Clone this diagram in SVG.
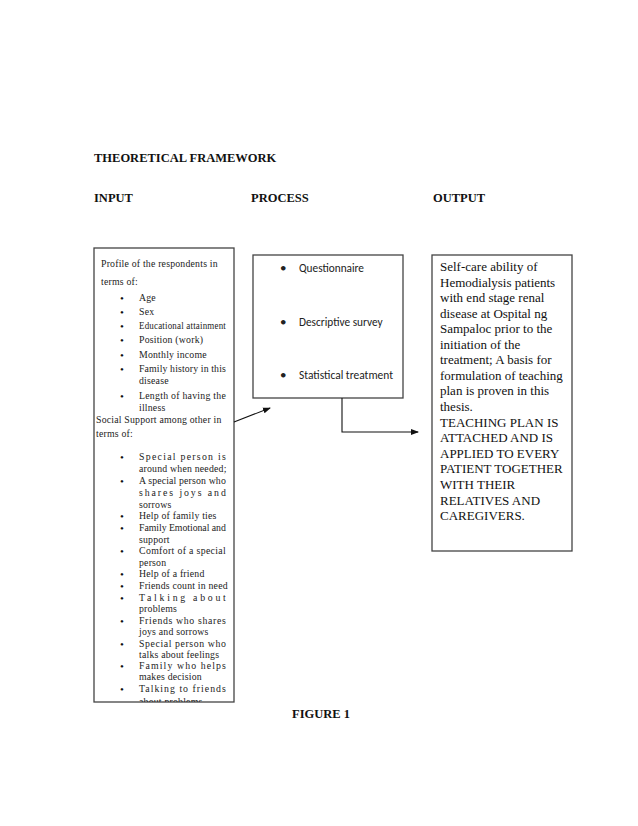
<svg xmlns="http://www.w3.org/2000/svg" width="638" height="826" viewBox="0 0 638 826">
<style>
.h{font-family:"Liberation Serif","Times New Roman",serif;font-weight:bold;font-size:12.5px;fill:#111}
.s{font-family:"Liberation Serif","Times New Roman",serif;font-size:9.8px;letter-spacing:0.2px;fill:#222}
.b{font-family:"Liberation Serif","Times New Roman",serif;font-size:11px;fill:#111}
.p{font-family:"Carlito","Liberation Sans",Arial,sans-serif;font-size:11.3px;fill:#222}
.o{font-family:"Liberation Serif","Times New Roman",serif;font-size:13px;fill:#111}
.box{fill:#fff;stroke:#444;stroke-width:1.3}
.ln{fill:none;stroke:#111;stroke-width:1.1}
</style>
<defs>
<marker id="ah" markerWidth="8" markerHeight="8" refX="7" refY="4" orient="auto" markerUnits="userSpaceOnUse">
<path d="M0,1 L8,4 L0,7 Z" fill="#111"/>
</marker>
<clipPath id="ic"><rect x="94" y="248" width="140" height="454"/></clipPath>
</defs>
<rect width="638" height="826" fill="#fff"/>
<text class="h" x="94" y="162">THEORETICAL FRAMEWORK</text>
<text class="h" x="94" y="202">INPUT</text>
<text class="h" x="251" y="202">PROCESS</text>
<text class="h" x="433" y="202">OUTPUT</text>
<g id="input">
<rect class="box" x="94" y="248" width="140" height="454"/>
<g clip-path="url(#ic)">
<g class="b">
<text x="120" y="302">•</text><text x="120" y="316">•</text><text x="120" y="330">•</text><text x="120" y="344">•</text><text x="120" y="359">•</text><text x="120" y="373">•</text><text x="120" y="400">•</text>
<text x="120" y="461">•</text><text x="120" y="485">•</text><text x="120" y="520">•</text><text x="120" y="532">•</text><text x="120" y="555">•</text><text x="120" y="578">•</text><text x="120" y="590">•</text><text x="120" y="602">•</text><text x="120" y="625">•</text><text x="120" y="648">•</text><text x="120" y="670">•</text><text x="120" y="693">•</text>
</g>
<g class="s">
<text x="101" y="267">Profile of the respondents in</text>
<text x="101" y="285">terms of:</text>
<text x="139" y="301">Age</text>
<text x="139" y="315">Sex</text>
<text x="139" y="329" textLength="87" lengthAdjust="spacingAndGlyphs">Educational attainment</text>
<text x="139" y="343">Position (work)</text>
<text x="139" y="358">Monthly income</text>
<text x="139" y="372" textLength="87" lengthAdjust="spacing">Family history in this</text>
<text x="139" y="384">disease</text>
<text x="139" y="399" textLength="87" lengthAdjust="spacing">Length of having the</text>
<text x="139" y="411">illness</text>
<text x="96" y="423">Social Support among other in</text>
<text x="96" y="437">terms of:</text>
<text x="139" y="460" textLength="87" lengthAdjust="spacing">Special person is</text>
<text x="139" y="472">around when needed;</text>
<text x="139" y="484" textLength="87" lengthAdjust="spacing">A special person who</text>
<text x="139" y="496" textLength="87" lengthAdjust="spacing">shares joys and</text>
<text x="139" y="508">sorrows</text>
<text x="139" y="519">Help of family ties</text>
<text x="139" y="531" textLength="87" lengthAdjust="spacing">Family Emotional and</text>
<text x="139" y="543">support</text>
<text x="139" y="554" textLength="87" lengthAdjust="spacing">Comfort of a special</text>
<text x="139" y="566">person</text>
<text x="139" y="577">Help of a friend</text>
<text x="139" y="589">Friends count in need</text>
<text x="139" y="601" textLength="87" lengthAdjust="spacing">Talking about</text>
<text x="139" y="612">problems</text>
<text x="139" y="624" textLength="87" lengthAdjust="spacing">Friends who shares</text>
<text x="139" y="635">joys and sorrows</text>
<text x="139" y="647" textLength="87" lengthAdjust="spacing">Special person who</text>
<text x="139" y="658">talks about feelings</text>
<text x="139" y="669" textLength="87" lengthAdjust="spacing">Family who helps</text>
<text x="139" y="680">makes decision</text>
<text x="139" y="692" textLength="87" lengthAdjust="spacing">Talking to friends</text>
<text x="139" y="705">about problems</text>
</g>
</g>
</g>
<g id="process">
<rect class="box" x="253" y="255" width="150" height="143"/>
<g class="p">
<text x="280" y="272" font-size="13">•</text><text x="299" y="272">Questionnaire</text>
<text x="280" y="326" font-size="13">•</text><text x="299" y="326">Descriptive survey</text>
<text x="280" y="379" font-size="13">•</text><text x="299" y="379" textLength="94" lengthAdjust="spacingAndGlyphs">Statistical treatment</text>
</g>
</g>
<g id="output">
<rect class="box" x="432" y="255" width="140" height="296"/>
<g class="o">
<text x="440" y="271">Self-care ability of</text>
<text x="440" y="286.5">Hemodialysis patients</text>
<text x="440" y="302">with end stage renal</text>
<text x="440" y="317.5">disease at Ospital ng</text>
<text x="440" y="333">Sampaloc prior to the</text>
<text x="440" y="348.5">initiation of the</text>
<text x="440" y="364">treatment; A basis for</text>
<text x="440" y="379.5">formulation of teaching</text>
<text x="440" y="395">plan is proven in this</text>
<text x="440" y="410.5">thesis.</text>
<text x="440" y="426.5">TEACHING PLAN IS</text>
<text x="440" y="442">ATTACHED AND IS</text>
<text x="440" y="457.5">APPLIED TO EVERY</text>
<text x="440" y="473">PATIENT TOGETHER</text>
<text x="440" y="489">WITH THEIR</text>
<text x="440" y="504.5">RELATIVES AND</text>
<text x="440" y="520">CAREGIVERS.</text>
</g>
</g>
<g id="connectors">
<line class="ln" x1="234" y1="422" x2="270" y2="408" marker-end="url(#ah)"/>
<polyline class="ln" points="342,398 342,432 418,432" marker-end="url(#ah)"/>
</g>
<text class="h" x="292" y="718">FIGURE 1</text>
</svg>
